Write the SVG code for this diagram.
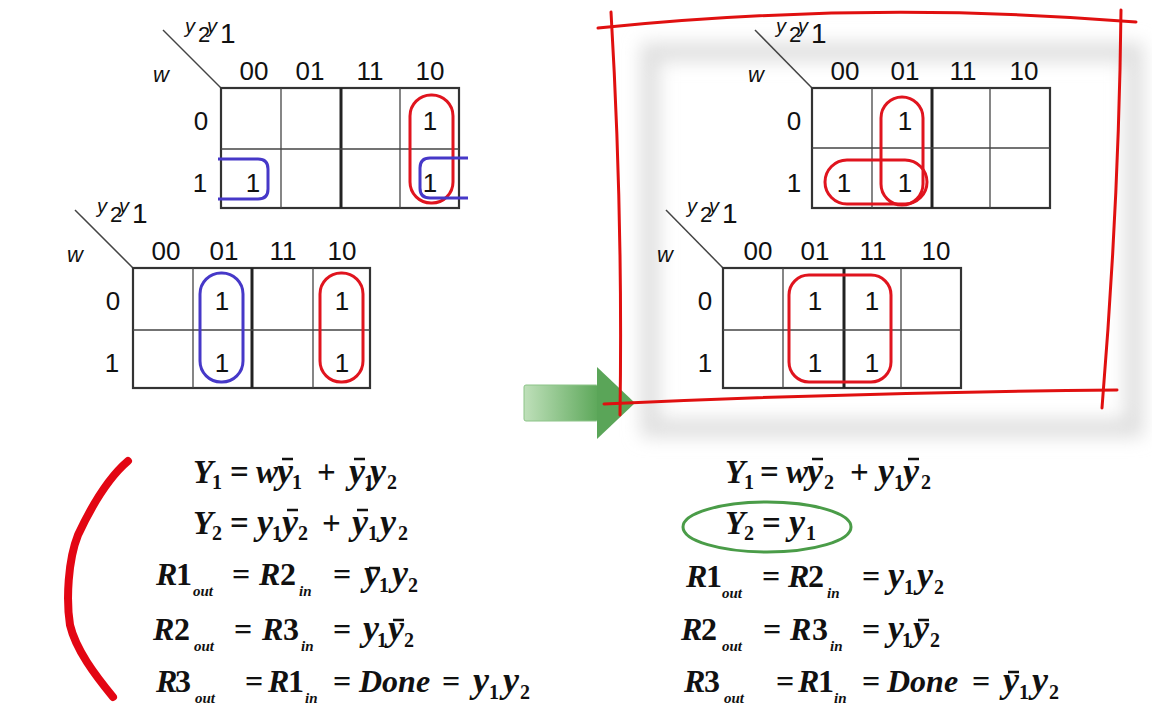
<svg xmlns="http://www.w3.org/2000/svg" width="1152" height="720" viewBox="0 0 1152 720">
<style>
.lab{font-family:"Liberation Sans",Arial,sans-serif;font-size:26px;fill:#111;text-anchor:middle}
.w{font-family:"Liberation Sans",Arial,sans-serif;font-size:22px;font-style:italic;fill:#111}
.yy{font-family:"Liberation Sans",Arial,sans-serif;font-size:20px;font-style:italic;fill:#111}
.big{font-family:"Liberation Sans",Arial,sans-serif;font-size:28px;fill:#111}
.mid{font-size:22px}
.diag{stroke:#444;stroke-width:1.5}
.grid{fill:none;stroke:#333;stroke-width:2.2}
.thin{stroke:#444;stroke-width:1.3}
.thick{stroke:#222;stroke-width:3}
.red{fill:none;stroke:#e0141e;stroke-width:3}
.blue{fill:none;stroke:#4638c8;stroke-width:3}
.eq{font-family:"Liberation Serif","Times New Roman",serif;font-weight:700;font-style:italic;font-size:33px;fill:#111}
.eqr{font-size:32px}
.v{font-size:36px}
.up{font-style:normal}
.s{font-size:20px;font-style:normal}
.t{font-size:15px}
.bar{stroke:#111;stroke-width:2.5}
.frame{fill:none;stroke:#e01010;stroke-width:3;stroke-linecap:round}
</style>
<defs>
<filter id="blur" x="-20%" y="-20%" width="140%" height="140%"><feGaussianBlur stdDeviation="9"/></filter>
<linearGradient id="ag" x1="0" y1="0" x2="1" y2="0">
<stop offset="0" stop-color="#bfe0ba"/><stop offset="1" stop-color="#5da85a"/>
</linearGradient>
</defs>
<rect width="1152" height="720" fill="#fff"/>
<rect x="650" y="52" width="484" height="376" fill="none" stroke="#dedede" stroke-width="18" filter="url(#blur)"/>

<g id="kmap-tl" transform="translate(221,88)">
<line class="diag" x1="-58" y1="-58" x2="0" y2="0"/>
<text class="yy" x="-36" y="-55">y</text><text class="big mid" x="-23" y="-46">2</text><text class="yy" x="-14" y="-55">y</text><text class="big" x="-1" y="-45">1</text>
<text class="w" x="-68" y="-6">w</text>
<text class="lab" x="33" y="-8">00</text><text class="lab" x="89" y="-8">01</text><text class="lab" x="149" y="-8">11</text><text class="lab" x="209" y="-8">10</text>
<text class="lab" x="-20" y="42">0</text><text class="lab" x="-21" y="104">1</text>
<rect class="grid" x="0" y="0" width="238" height="120"/>
<line class="thin" x1="60" y1="0" x2="60" y2="120"/><line class="thick" x1="120" y1="0" x2="120" y2="120"/><line class="thin" x1="179" y1="0" x2="179" y2="120"/><line class="thin" x1="0" y1="61" x2="238" y2="61"/>
<text class="lab" x="209" y="42">1</text><text class="lab" x="209" y="104">1</text><text class="lab" x="32" y="104">1</text>
<rect class="red" x="189" y="7" width="43" height="108" rx="21"/>
<path class="blue" d="M-3,71 H37 Q47,71 47,81 V101 Q47,111 37,111 H-3"/>
<path class="blue" d="M247,70 H209 Q199,70 199,80 V100 Q199,110 209,110 H247"/>
</g>

<g id="kmap-bl" transform="translate(133,268)">
<line class="diag" x1="-58" y1="-58" x2="0" y2="0"/>
<text class="yy" x="-36" y="-55">y</text><text class="big mid" x="-23" y="-46">2</text><text class="yy" x="-14" y="-55">y</text><text class="big" x="-1" y="-45">1</text>
<text class="w" x="-66" y="-6">w</text>
<text class="lab" x="33" y="-8">00</text><text class="lab" x="91" y="-8">01</text><text class="lab" x="150" y="-8">11</text><text class="lab" x="209" y="-8">10</text>
<text class="lab" x="-20" y="42">0</text><text class="lab" x="-21" y="104">1</text>
<rect class="grid" x="0" y="0" width="237" height="120"/>
<line class="thin" x1="60" y1="0" x2="60" y2="120"/><line class="thick" x1="119" y1="0" x2="119" y2="120"/><line class="thin" x1="180" y1="0" x2="180" y2="120"/><line class="thin" x1="0" y1="62" x2="237" y2="62"/>
<text class="lab" x="89" y="42">1</text><text class="lab" x="89" y="104">1</text><text class="lab" x="209" y="42">1</text><text class="lab" x="209" y="104">1</text>
<rect class="blue" x="67" y="5" width="43" height="109" rx="21"/>
<rect class="red" x="187" y="5" width="43" height="109" rx="21"/>
</g>

<g id="kmap-tr" transform="translate(812,88)">
<line class="diag" x1="-57" y1="-58" x2="0" y2="0"/>
<text class="yy" x="-36" y="-55">y</text><text class="big mid" x="-23" y="-46">2</text><text class="yy" x="-14" y="-55">y</text><text class="big" x="-1" y="-45">1</text>
<text class="w" x="-64" y="-6">w</text>
<text class="lab" x="33" y="-8">00</text><text class="lab" x="93" y="-8">01</text><text class="lab" x="151" y="-8">11</text><text class="lab" x="212" y="-8">10</text>
<text class="lab" x="-18" y="42">0</text><text class="lab" x="-18" y="104">1</text>
<rect class="grid" x="0" y="0" width="238" height="120"/>
<line class="thin" x1="60" y1="0" x2="60" y2="120"/><line class="thick" x1="120" y1="0" x2="120" y2="120"/><line class="thin" x1="178" y1="0" x2="178" y2="120"/><line class="thin" x1="0" y1="60" x2="238" y2="60"/>
<text class="lab" x="93" y="42">1</text><text class="lab" x="93" y="104">1</text><text class="lab" x="32" y="104">1</text>
<rect class="red" x="69" y="9" width="42" height="108" rx="21"/>
<rect class="red" x="13" y="72" width="102" height="44" rx="22"/>
</g>

<g id="kmap-br" transform="translate(723,268)">
<line class="diag" x1="-57" y1="-58" x2="0" y2="0"/>
<text class="yy" x="-36" y="-55">y</text><text class="big mid" x="-23" y="-46">2</text><text class="yy" x="-14" y="-55">y</text><text class="big" x="-1" y="-45">1</text>
<text class="w" x="-66" y="-6">w</text>
<text class="lab" x="35" y="-8">00</text><text class="lab" x="92" y="-8">01</text><text class="lab" x="150" y="-8">11</text><text class="lab" x="213" y="-8">10</text>
<text class="lab" x="-18" y="42">0</text><text class="lab" x="-18" y="104">1</text>
<rect class="grid" x="0" y="0" width="238" height="120"/>
<line class="thin" x1="60" y1="0" x2="60" y2="120"/><line class="thick" x1="121" y1="0" x2="121" y2="120"/><line class="thin" x1="178" y1="0" x2="178" y2="120"/><line class="thin" x1="0" y1="62" x2="238" y2="62"/>
<text class="lab" x="92" y="42">1</text><text class="lab" x="92" y="104">1</text><text class="lab" x="149" y="42">1</text><text class="lab" x="149" y="104">1</text>
<rect class="red" x="66" y="7" width="102" height="107" rx="20"/>
</g>

<g id="arrow">
<rect x="524" y="385" width="74" height="36" rx="2" fill="url(#ag)" stroke="#8cc488" stroke-width="1"/>
<polygon points="597,367 635,403 597,439" fill="#5aa558"/>
</g>

<g id="connectors">
<path class="frame" d="M598,28 Q870,0 1136,22"/>
<path class="frame" d="M611,12 Q623,215 620,415"/>
<path class="frame" d="M1121,10 Q1119,200 1102,408"/>
<path class="frame" d="M604,404 Q860,392 1117,390"/>
<path d="M128,461 C108,478 92,505 78,535 C68,560 66,600 70,625 C76,650 95,675 113,697" fill="none" stroke="#e30613" stroke-width="8" stroke-linecap="round"/>
<ellipse cx="767" cy="527" rx="84" ry="25" fill="none" stroke="#4a9c48" stroke-width="3"/>
</g>

<g id="eq-left">
<text class="eq"><tspan x="193" y="483">Y</tspan><tspan class="s" x="212" y="489">1</tspan><tspan class="up" x="230" y="483">=</tspan><tspan x="256" y="483">w</tspan><tspan class="v" x="277" y="483">y</tspan><tspan class="s" x="292" y="489">1</tspan><tspan class="up" x="317" y="483">+</tspan><tspan class="v" x="349" y="483">y</tspan><tspan class="s" x="364" y="489">1</tspan><tspan class="v" x="370" y="483">y</tspan><tspan class="s" x="387" y="489">2</tspan></text>
<line class="bar" x1="282" y1="459" x2="293" y2="459"/><line class="bar" x1="354" y1="459" x2="365" y2="459"/>
<text class="eq"><tspan x="193" y="534">Y</tspan><tspan class="s" x="212" y="540">2</tspan><tspan class="up" x="230" y="534">=</tspan><tspan class="v" x="257" y="534">y</tspan><tspan class="s" x="272" y="540">1</tspan><tspan class="v" x="282" y="534">y</tspan><tspan class="s" x="298" y="540">2</tspan><tspan class="up" x="322" y="534">+</tspan><tspan class="v" x="352" y="534">y</tspan><tspan class="s" x="368" y="540">1</tspan><tspan class="v" x="380" y="534">y</tspan><tspan class="s" x="398" y="540">2</tspan></text>
<line class="bar" x1="287" y1="510" x2="298" y2="510"/><line class="bar" x1="357" y1="510" x2="368" y2="510"/>
<text class="eq eqr"><tspan x="156" y="585">R</tspan><tspan class="up" x="176" y="585">1</tspan><tspan class="t" x="193" y="596">out</tspan><tspan class="up" x="232" y="585">=</tspan><tspan x="259" y="585">R</tspan><tspan class="up" x="280" y="585">2</tspan><tspan class="t" x="299" y="596">in</tspan><tspan class="up" x="333" y="585">=</tspan><tspan class="v" x="364" y="585">y</tspan><tspan class="s" x="379" y="592">1</tspan><tspan class="v" x="392" y="585">y</tspan><tspan class="s" x="408" y="592">2</tspan></text>
<line class="bar" x1="369" y1="568" x2="380" y2="568"/>
<text class="eq eqr"><tspan x="153" y="640">R</tspan><tspan class="up" x="174" y="640">2</tspan><tspan class="t" x="194" y="651">out</tspan><tspan class="up" x="234" y="640">=</tspan><tspan x="262" y="640">R</tspan><tspan class="up" x="283" y="640">3</tspan><tspan class="t" x="301" y="651">in</tspan><tspan class="up" x="333" y="640">=</tspan><tspan class="v" x="363" y="640">y</tspan><tspan class="s" x="377" y="647">1</tspan><tspan class="v" x="388" y="640">y</tspan><tspan class="s" x="404" y="647">2</tspan></text>
<line class="bar" x1="393" y1="620" x2="404" y2="620"/>
<text class="eq eqr"><tspan x="156" y="692">R</tspan><tspan class="up" x="175" y="692">3</tspan><tspan class="t" x="195" y="703">out</tspan><tspan class="up" x="245" y="692">=</tspan><tspan x="268" y="692">R</tspan><tspan class="up" x="288" y="692">1</tspan><tspan class="t" x="305" y="703">in</tspan><tspan class="up" x="333" y="692">=</tspan><tspan x="359" y="692">Done</tspan><tspan class="up" x="442" y="692">=</tspan><tspan class="v" x="473" y="692">y</tspan><tspan class="s" x="489" y="699">1</tspan><tspan class="v" x="503" y="692">y</tspan><tspan class="s" x="520" y="699">2</tspan></text>
</g>

<g id="eq-right">
<text class="eq"><tspan x="725" y="483">Y</tspan><tspan class="s" x="744" y="489">1</tspan><tspan class="up" x="760" y="483">=</tspan><tspan x="786" y="483">w</tspan><tspan class="v" x="807" y="483">y</tspan><tspan class="s" x="824" y="489">2</tspan><tspan class="up" x="850" y="483">+</tspan><tspan class="v" x="878" y="483">y</tspan><tspan class="s" x="894" y="489">1</tspan><tspan class="v" x="903" y="483">y</tspan><tspan class="s" x="921" y="489">2</tspan></text>
<line class="bar" x1="812" y1="459" x2="823" y2="459"/><line class="bar" x1="908" y1="459" x2="919" y2="459"/>
<text class="eq"><tspan x="725" y="534">Y</tspan><tspan class="s" x="744" y="540">2</tspan><tspan class="up" x="762" y="534">=</tspan><tspan class="v" x="789" y="534">y</tspan><tspan class="s" x="806" y="540">1</tspan></text>
<text class="eq eqr"><tspan x="686" y="587">R</tspan><tspan class="up" x="706" y="587">1</tspan><tspan class="t" x="722" y="598">out</tspan><tspan class="up" x="762" y="587">=</tspan><tspan x="788" y="587">R</tspan><tspan class="up" x="808" y="587">2</tspan><tspan class="t" x="827" y="598">in</tspan><tspan class="up" x="862" y="587">=</tspan><tspan class="v" x="888" y="587">y</tspan><tspan class="s" x="904" y="594">1</tspan><tspan class="v" x="917" y="587">y</tspan><tspan class="s" x="934" y="594">2</tspan></text>
<text class="eq eqr"><tspan x="681" y="640">R</tspan><tspan class="up" x="701" y="640">2</tspan><tspan class="t" x="722" y="651">out</tspan><tspan class="up" x="763" y="640">=</tspan><tspan x="790" y="640">R</tspan><tspan class="up" x="812" y="640">3</tspan><tspan class="t" x="830" y="651">in</tspan><tspan class="up" x="862" y="640">=</tspan><tspan class="v" x="888" y="640">y</tspan><tspan class="s" x="902" y="647">1</tspan><tspan class="v" x="913" y="640">y</tspan><tspan class="s" x="930" y="647">2</tspan></text>
<line class="bar" x1="918" y1="620" x2="929" y2="620"/>
<text class="eq eqr"><tspan x="684" y="692">R</tspan><tspan class="up" x="704" y="692">3</tspan><tspan class="t" x="724" y="703">out</tspan><tspan class="up" x="776" y="692">=</tspan><tspan x="798" y="692">R</tspan><tspan class="up" x="818" y="692">1</tspan><tspan class="t" x="834" y="703">in</tspan><tspan class="up" x="862" y="692">=</tspan><tspan x="887" y="692">Done</tspan><tspan class="up" x="972" y="692">=</tspan><tspan class="v" x="1003" y="692">y</tspan><tspan class="s" x="1019" y="699">1</tspan><tspan class="v" x="1032" y="692">y</tspan><tspan class="s" x="1049" y="699">2</tspan></text>
<line class="bar" x1="1008" y1="672" x2="1019" y2="672"/>
</g>
</svg>
